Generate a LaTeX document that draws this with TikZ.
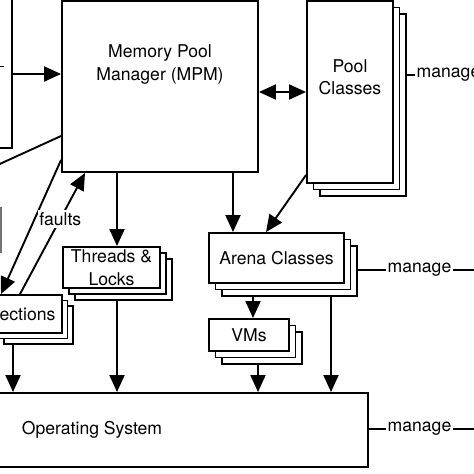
\documentclass[tikz,border=0pt]{standalone}
\usepackage{fontspec}
\setmainfont{TeX Gyre Heros}
\usetikzlibrary{arrows.meta}
\newcommand\diafont{\fontsize{17.6}{22.5}\selectfont}
\begin{document}
\begin{tikzpicture}[x=1pt,y=-1pt,
  box/.style={draw, fill=white, line width=1.9pt, inner sep=0pt, font=\diafont, align=center},
  sz/.style 2 args={minimum width=#1pt, minimum height=#2pt},
  lbl/.style={font=\diafont, inner sep=2pt},
  conn/.style={line width=1.9pt},
  arr/.style={conn, -{Triangle[length=17pt,width=15pt]}},
  darr/.style={conn, {Triangle[length=17pt,width=15pt]}-{Triangle[length=17pt,width=15pt]}},
]
\useasboundingbox (0,0) rectangle (474,474);
\clip (0,0) rectangle (474,474);

% left boxes (cut off)
\node[box, sz={72}{158}] (client) at (-24,69) {};
\draw[line width=0.9pt] (0,66) -- (3.5,66);
\node[box, draw=black!55, sz={42}{44}] (grayb) at (-20,230) {};

% Memory Pool Manager
\node[box, sz={196}{171}, label={[lbl, align=center, yshift=22pt]center:Memory Pool\\Manager (MPM)}] (mpm) at (160,86.5) {};

% Pool Classes
\node[box, sz={86}{182}] (pool3) at (363,105) {};
\node[box, sz={86}{182}] (pool2) at (356.5,98.5) {};
\node[box, sz={86}{182}, label={[lbl, align=center, yshift=15pt]center:Pool\\Classes}] (pool) at (350,92) {};

% Threads & Locks
\node[box, sz={97}{41}] (thr3) at (123.5,279.5) {};
\node[box, sz={97}{41}] (thr2) at (117.5,273.5) {};
\node[box, sz={97}{41}] (thr) at (111.5,267.5) {Threads \&\\Locks};

% Sections (cut off)
\node[box, sz={69}{38}] (sec3) at (38.5,325) {};
\node[box, sz={69}{38}] (sec2) at (33,319.5) {};
\node[box, sz={69}{38}] (sec) at (27.5,314) {ections};

% Arena Classes
\node[box, sz={135}{50}] (ar3) at (289.5,271) {};
\node[box, sz={135}{50}] (ar2) at (283,264.5) {};
\node[box, sz={135}{50}] (ar) at (276.5,258) {Arena Classes};

% VMs
\node[box, sz={80}{32}] (vm3) at (262,348) {};
\node[box, sz={80}{32}] (vm2) at (255.5,341.5) {};
\node[box, sz={80}{32}] (vm) at (249,335) {VMs};

% Operating System
\node[box, sz={552}{74}] (os) at (92,430) {Operating System};

% connectors
\draw[arr] (client.east |- 0,74) -- (mpm.west |- 0,74);
\draw[darr] (mpm.east |- 0,92) -- (pool.west |- 0,92);
\coordinate (offl) at (-20,173);
\draw[conn] (mpm.west |- 0,136) -- (offl);
\draw[arr] (mpm.west |- 0,160) -- (1,0 |- sec.north);
\draw[arr] (20,0 |- sec.north) -- node[lbl, pos=0.62, fill=white, inner xsep=1pt] (faultlbl) {faults} (85,0 |- mpm.south);
\draw[arr] (117,0 |- mpm.south) -- (117,0 |- thr.north);
\draw[arr] (117,0 |- thr3.south) -- (117,0 |- os.north);
\draw[arr] (13,0 |- sec3.south) -- (13,0 |- os.north);
\draw[arr] (233,0 |- mpm.south) -- (233,0 |- ar.north);
\draw[arr] (pool.west |- 0,175) -- (266,0 |- ar.north);
\draw[arr] (253,0 |- ar3.south) -- (253,0 |- vm.north);
\draw[arr] (258,0 |- vm3.south) -- (258,0 |- os.north);
\draw[arr] (331,0 |- ar3.south) -- (331,0 |- os.north);

% manage labels
\node[lbl] (m1) at (448.5,75) {manage};
\node[lbl] (m2) at (419.5,270) {manage};
\node[lbl] (m3) at (419.5,429) {manage};
\coordinate (e2) at (480,270);
\coordinate (e3) at (480,429);
\draw[conn] (pool3.east |- m1.west) -- (m1.west);
\draw[conn] (ar3.east |- m2.west) -- (m2.west);
\draw[conn] (m2.east) -- (e2);
\draw[conn] (os.east |- m3.west) -- (m3.west);
\draw[conn] (m3.east) -- (e3);
\end{tikzpicture}
\end{document}
